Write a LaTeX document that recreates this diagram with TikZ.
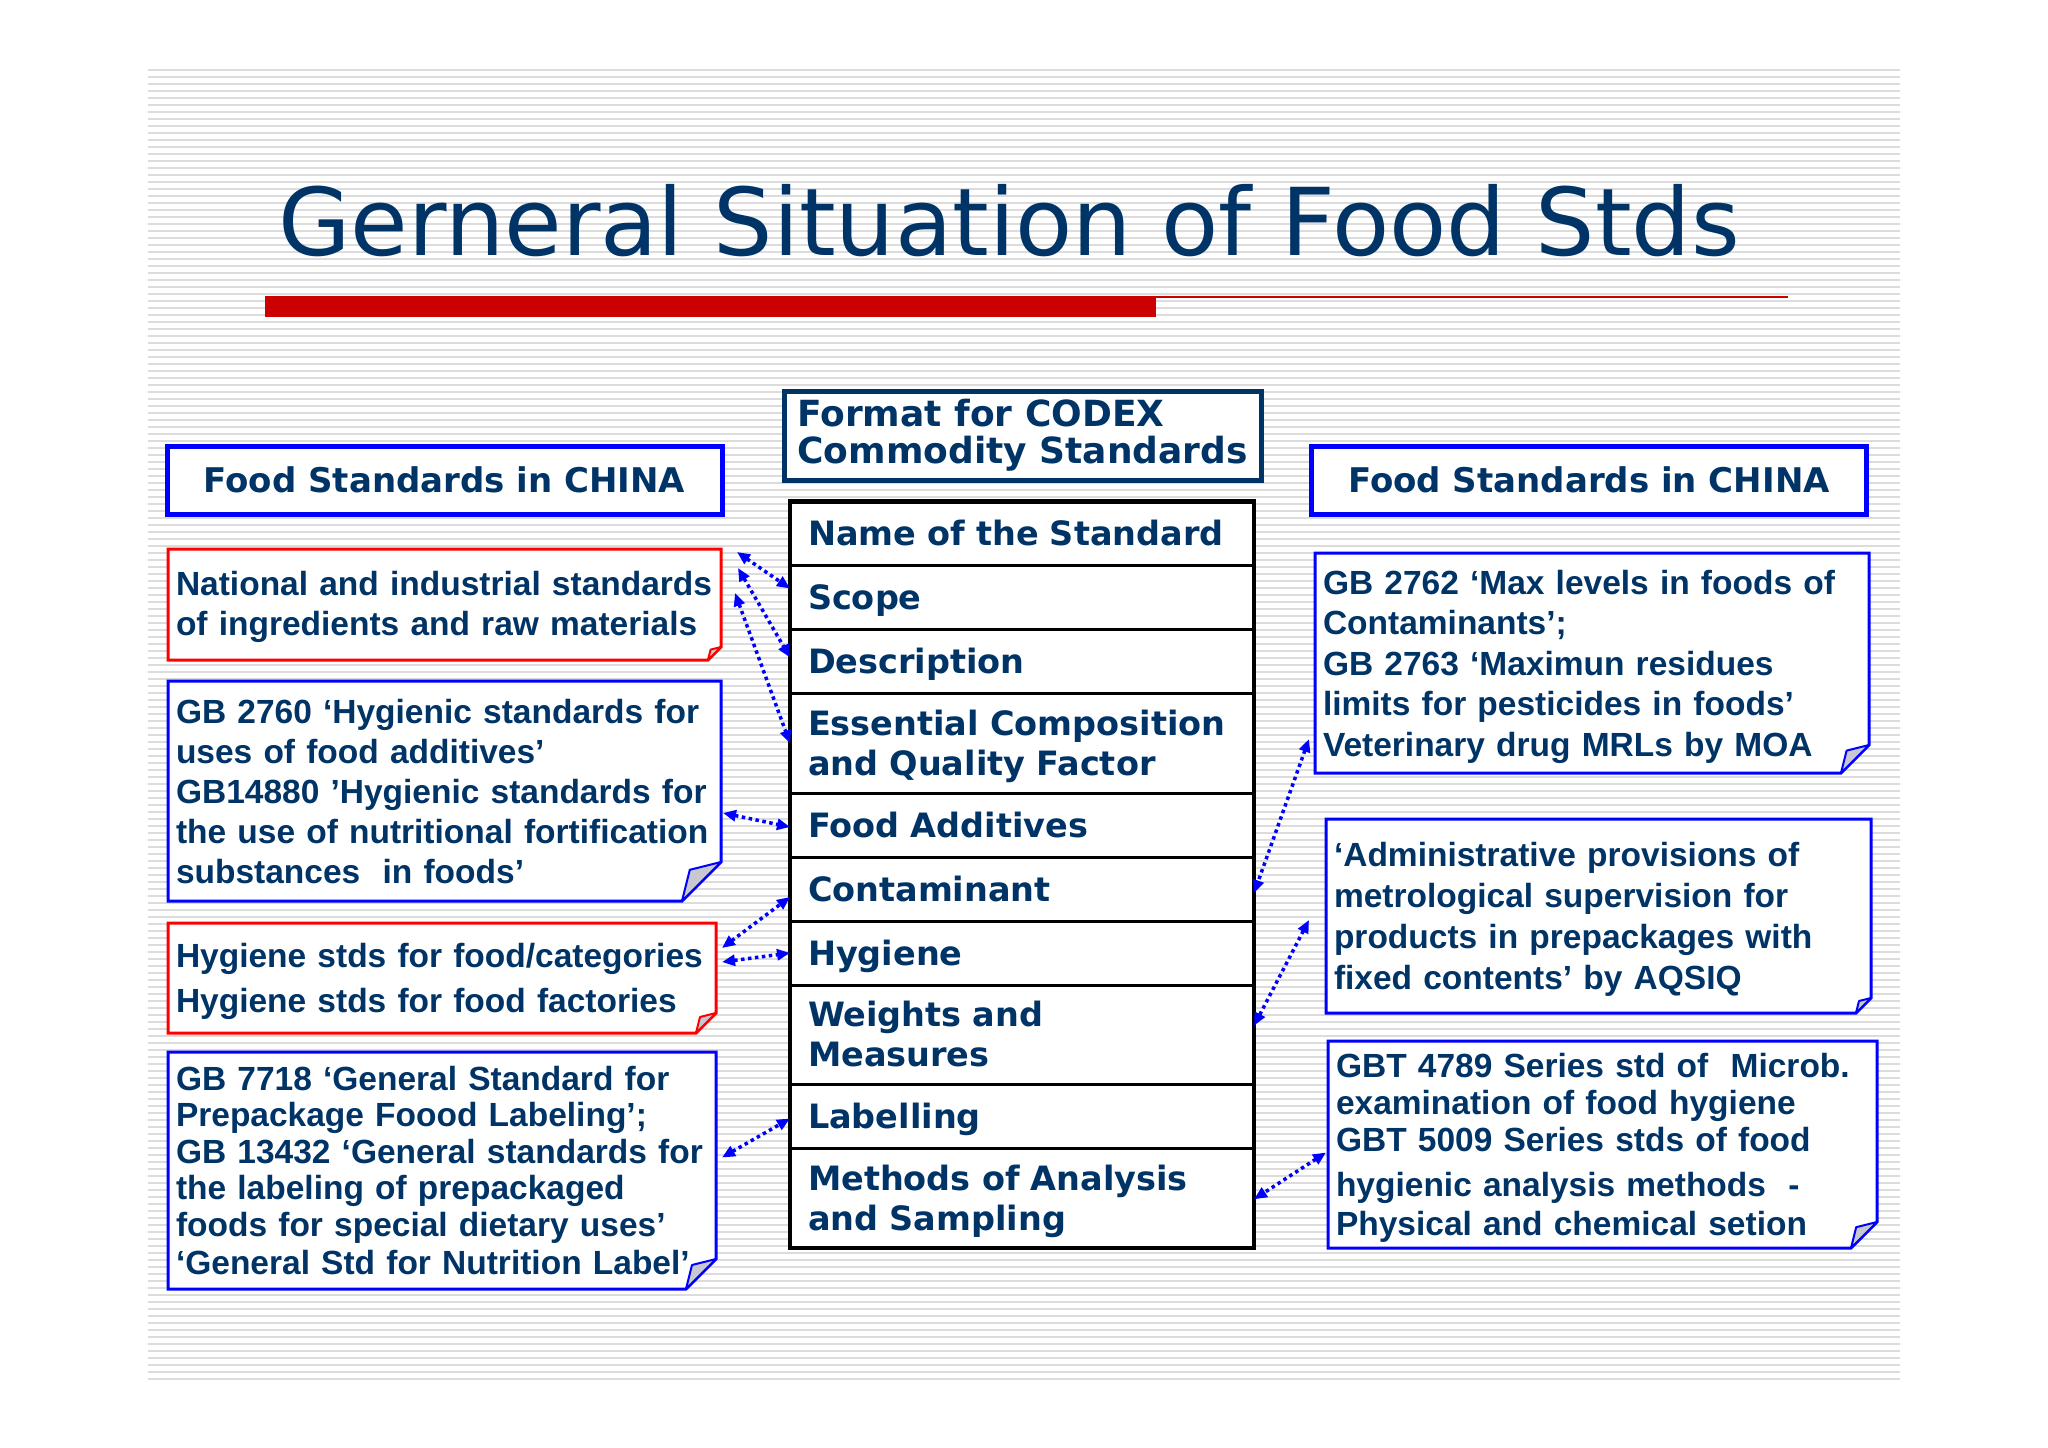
\documentclass[tikz,border=0pt]{standalone}
\usepackage{fontspec}
\setmainfont{DejaVu Sans}
\newfontfamily\notefont{Liberation Sans}
\usetikzlibrary{arrows.meta, positioning, backgrounds}
\definecolor{navy}{RGB}{0,51,102}
\definecolor{myblue}{RGB}{0,0,255}
\definecolor{myred}{RGB}{255,0,0}
\definecolor{barred}{RGB}{204,0,0}
\definecolor{flapgray}{RGB}{200,200,210}
\definecolor{stripegray}{RGB}{220,220,220}
\pgfdeclarelayer{paper}
\pgfsetlayers{paper,background,main}
\newcommand\lnstrut{\rule[\dimexpr12pt-0.5\baselineskip\relax]{0pt}{\baselineskip}}
\tikzset{
  hdr/.style={draw=myblue, line width=5pt, fill=white, text=navy, inner sep=0pt,
    minimum width=555pt, minimum height=68pt, font=\bfseries\fontsize{34}{40}\selectfont,
    execute at begin node=\lnstrut},
  row/.style={draw, line width=3pt, fill=white, text=navy, outer sep=0pt, text width=428pt,
    align=left, inner xsep=18pt, inner ysep=0pt, minimum height=64pt,
    font=\bfseries\fontsize{33.5}{40}\selectfont,
    execute at begin node=\lnstrut, execute at end node=\lnstrut},
  tall/.style={minimum height=99.5pt},
  note/.style={text=navy, align=left, inner xsep=8pt, inner ysep=0pt, outer sep=0pt,
    font=\notefont\bfseries\fontsize{33.5}{#1}\selectfont,
    execute at begin node=\lnstrut, execute at end node=\lnstrut},
  note/.default=40,
  lift/.style={execute at end node=\lnstrut\rule[-#1]{0pt}{#1}},
  link/.style={myblue, line width=3.5pt, dash pattern=on 3.5pt off 3.5pt, <->,
    >={Triangle[length=13pt,width=11pt]}}
}

\begin{document}
\begin{tikzpicture}[x=1pt,y=-1pt]
\useasboundingbox (0,0) rectangle (2048,1448);
\begin{pgfonlayer}{paper}
  \fill[white] (0,0) rectangle (2048,1448);
  \foreach \y in {70,77,...,1385}
    \draw[stripegray, line width=2pt] (148,\y) -- (1900,\y);
\end{pgfonlayer}

% title and rule
\node[anchor=base west, inner sep=0pt, text=navy, font=\fontsize{93.6}{100}\selectfont] (title) at (278,255) {Gerneral Situation of Food Stds};
\fill[barred] (265,296) rectangle (1156,317);
\draw[barred, line width=2pt] (1156,297) -- (1788,297);

% headings
\node[hdr] (chinaL) at (444.5,480.5) {Food Standards in CHINA};
\node[hdr] (chinaR) at (1589,480) {Food Standards in CHINA};
\node[draw=navy, line width=5pt, fill=white, minimum width=477pt, minimum height=89pt, inner sep=0pt,
  align=left, text=navy, font=\bfseries\fontsize{36}{37}\selectfont,
  execute at begin node=\lnstrut, execute at end node=\lnstrut] (codex) at (1022.5,435.5) {Format for CODEX\\Commodity Standards};

% codex format table
\node[row] (nameStd) at (1022,533.5) {Name of the Standard};
\node[row, below=0pt of nameStd] (scope) {Scope};
\node[row, below=0pt of scope] (descr) {Description};
\node[row, tall, below=0pt of descr] (essComp) {Essential Composition\\and Quality Factor};
\node[row, below=0pt of essComp] (addit) {Food Additives};
\node[row, below=0pt of addit] (contam) {Contaminant};
\node[row, below=0pt of contam] (hyg) {Hygiene};
\node[row, tall, below=0pt of hyg] (weights) {Weights and\\Measures};
\node[row, below=0pt of weights] (labelling) {Labelling};
\node[row, tall, below=0pt of labelling] (methods) {Methods of Analysis\\and Sampling};
\draw[line width=4.5pt] (nameStd.north west) rectangle (methods.south east);

% china standards, left
\node[note, lift=10pt, text width=537pt, minimum height=111pt] (nat) at (444.5,604.5) {National and industrial standards\\of ingredients and raw materials};
\node[note, text width=537pt, minimum height=220pt] (gbadd) at (444.5,791) {GB 2760 ‘Hygienic standards for\\uses of food additives’\\GB14880 ’Hygienic standards for\\the use of nutritional fortification\\substances~ in foods’};
\node[note=45, text width=532pt, minimum height=110pt] (hygstd) at (442,978) {Hygiene stds for food/categories\\Hygiene stds for food factories};
\node[note=36.6, text width=532pt, minimum height=237pt] (gblab) at (442,1170.5) {GB 7718 ‘General Standard for\\Prepackage Foood Labeling’;\\GB 13432 ‘General standards for\\the labeling of prepackaged\\foods for special dietary uses’\\‘General Std for Nutrition Label’};

% china standards, right
\node[note=40.5, text width=538pt, minimum height=220pt] (gbcont) at (1592,663) {GB 2762 ‘Max levels in foods of\\Contaminants’;\\GB 2763 ‘Maximun residues\\limits for pesticides in foods’\\Veterinary drug MRLs by MOA};
\node[note=40.7, lift=8pt, text width=529pt, minimum height=194pt] (metro) at (1598.5,916) {‘Administrative provisions of\\metrological supervision for\\products in prepackages with\\fixed contents’ by AQSIQ};
\node[note=37, text width=533pt, minimum height=207pt] (gbtmeth) at (1602.5,1144.5) {GBT 4789 Series std of~ Microb.\\examination of food hygiene\\GBT 5009 Series stds of food\\[8pt]hygienic analysis methods~ -\\Physical and chemical setion};

% folded paper outlines behind the notes
\begin{pgfonlayer}{background}
  \foreach \n/\col/\f in {nat/myred/13pt, gbadd/myblue/39pt, hygstd/myred/20pt, gblab/myblue/30pt,
      gbcont/myblue/28pt, metro/myblue/15pt, gbtmeth/myblue/26pt} {
    \draw[\col, line width=3pt, fill=white] (\n.north west) -- (\n.north east) -- ([yshift=\f]\n.south east)
      -- ([xshift=-\f]\n.south east) -- (\n.south west) -- cycle;
    \draw[\col, line width=2pt, fill=flapgray, line join=round] ([yshift=\f]\n.south east)
      -- ([xshift=-0.8*\f, yshift=0.8*\f]\n.south east) -- ([xshift=-\f]\n.south east) -- cycle;
  }
\end{pgfonlayer}

% links
\draw[link] ([xshift=16pt,yshift=-3pt]nat.north east) -- ([yshift=9pt]scope.west);
\draw[link] ([xshift=17pt,yshift=-19pt]nat.north east) -- ([yshift=4pt]descr.west);
\draw[link] ([xshift=14pt,yshift=-44pt]nat.north east) -- (essComp.west);
\draw[link] ([xshift=2pt,yshift=-22pt]gbadd.east) -- ([yshift=-2pt]addit.west);
\draw[link] ([xshift=6pt,yshift=30pt]hygstd.east) -- ([yshift=-8pt]contam.west);
\draw[link] ([xshift=6pt,yshift=16pt]hygstd.east) -- (hyg.west);
\draw[link] ([xshift=6pt,yshift=13pt]gblab.east) -- ([yshift=-2pt]labelling.west);
\draw[link] ([xshift=-6pt,yshift=34pt]gbcont.south west) -- ([yshift=-4pt]contam.east);
\draw[link] ([xshift=-17pt,yshift=-4pt]metro.west) -- ([yshift=9pt]weights.east);
\draw[link] ([xshift=-2pt,yshift=-8pt]gbtmeth.west) -- ([yshift=-1pt]methods.east);
\end{tikzpicture}
\end{document}
